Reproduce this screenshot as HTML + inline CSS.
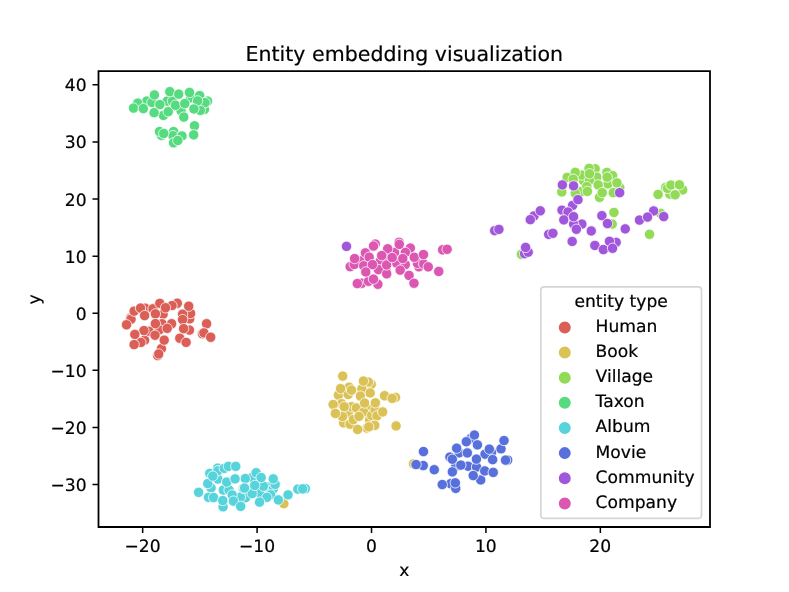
<!DOCTYPE html>
<html><head><meta charset="utf-8"><title>Entity embedding visualization</title>
<style>html,body{margin:0;padding:0;background:#fff;width:789px;height:592px;overflow:hidden}svg{display:block;text-rendering:geometricPrecision}text{stroke:#000;stroke-width:0.12px}</style>
</head><body>
<svg width="789" height="592" preserveAspectRatio="none" viewBox="0 0 460.8 345.6" version="1.1">
 
 <defs>
  <style type="text/css">*{stroke-linejoin: round; stroke-linecap: butt}</style>
 </defs>
 <g id="figure_1">
  <g id="patch_1">
   <path d="M 0 345.6 
L 460.8 345.6 
L 460.8 0 
L 0 0 
z
" style="fill: #ffffff"/>
  </g>
  <g id="axes_1">
   <g id="patch_2">
    <path d="M 57.6 307.584 
L 414.72 307.584 
L 414.72 41.472 
L 57.6 41.472 
z
" style="fill: #ffffff"/>
   </g>
   <g id="PathCollection_1">
    <defs>
     <path id="C0_0_e93a4b9b01" d="M 0 3 
C 0.795609 3 1.55874 2.683901 2.12132 2.12132 
C 2.683901 1.55874 3 0.795609 3 -0 
C 3 -0.795609 2.683901 -1.55874 2.12132 -2.12132 
C 1.55874 -2.683901 0.795609 -3 0 -3 
C -0.795609 -3 -1.55874 -2.683901 -2.12132 -2.12132 
C -2.683901 -1.55874 -3 -0.795609 -3 0 
C -3 0.795609 -2.683901 1.55874 -2.12132 2.12132 
C -1.55874 2.683901 -0.795609 3 0 3 
z
"/>
    </defs>
    <g clip-path="url(#pcbe1e40d2f)">
     <use href="#C0_0_e93a4b9b01" x="76.348602" y="185.559789" style="fill: #db5f57; stroke: #ffffff; stroke-width: 0.48"/>
    </g>
    <g clip-path="url(#pcbe1e40d2f)">
     <use href="#C0_0_e93a4b9b01" x="84.4621" y="198.576409" style="fill: #db5f57; stroke: #ffffff; stroke-width: 0.48"/>
    </g>
    <g clip-path="url(#pcbe1e40d2f)">
     <use href="#C0_0_e93a4b9b01" x="92.108634" y="207.565464" style="fill: #db5f57; stroke: #ffffff; stroke-width: 0.48"/>
    </g>
    <g clip-path="url(#pcbe1e40d2f)">
     <use href="#C0_0_e93a4b9b01" x="103.54925" y="177.037698" style="fill: #db5f57; stroke: #ffffff; stroke-width: 0.48"/>
    </g>
    <g clip-path="url(#pcbe1e40d2f)">
     <use href="#C0_0_e93a4b9b01" x="110.787191" y="186.085124" style="fill: #db5f57; stroke: #ffffff; stroke-width: 0.48"/>
    </g>
    <g clip-path="url(#pcbe1e40d2f)">
     <use href="#C0_0_e93a4b9b01" x="118.258614" y="194.840697" style="fill: #db5f57; stroke: #ffffff; stroke-width: 0.48"/>
    </g>
    <g clip-path="url(#pcbe1e40d2f)">
     <use href="#C0_0_e93a4b9b01" x="76.523713" y="186.376976" style="fill: #db5f57; stroke: #ffffff; stroke-width: 0.48"/>
    </g>
    <g clip-path="url(#pcbe1e40d2f)">
     <use href="#C0_0_e93a4b9b01" x="78.333198" y="181.648966" style="fill: #db5f57; stroke: #ffffff; stroke-width: 0.48"/>
    </g>
    <g clip-path="url(#pcbe1e40d2f)">
     <use href="#C0_0_e93a4b9b01" x="84.812323" y="179.956222" style="fill: #db5f57; stroke: #ffffff; stroke-width: 0.48"/>
    </g>
    <g clip-path="url(#pcbe1e40d2f)">
     <use href="#C0_0_e93a4b9b01" x="89.365221" y="180.248075" style="fill: #db5f57; stroke: #ffffff; stroke-width: 0.48"/>
    </g>
    <g clip-path="url(#pcbe1e40d2f)">
     <use href="#C0_0_e93a4b9b01" x="95.26064" y="183.400081" style="fill: #db5f57; stroke: #ffffff; stroke-width: 0.48"/>
    </g>
    <g clip-path="url(#pcbe1e40d2f)">
     <use href="#C0_0_e93a4b9b01" x="94.618565" y="189.003648" style="fill: #db5f57; stroke: #ffffff; stroke-width: 0.48"/>
    </g>
    <g clip-path="url(#pcbe1e40d2f)">
     <use href="#C0_0_e93a4b9b01" x="87.088772" y="193.381435" style="fill: #db5f57; stroke: #ffffff; stroke-width: 0.48"/>
    </g>
    <g clip-path="url(#pcbe1e40d2f)">
     <use href="#C0_0_e93a4b9b01" x="93.100932" y="192.505878" style="fill: #db5f57; stroke: #ffffff; stroke-width: 0.48"/>
    </g>
    <g clip-path="url(#pcbe1e40d2f)">
     <use href="#C0_0_e93a4b9b01" x="82.244021" y="199.91893" style="fill: #db5f57; stroke: #ffffff; stroke-width: 0.48"/>
    </g>
    <g clip-path="url(#pcbe1e40d2f)">
     <use href="#C0_0_e93a4b9b01" x="94.268342" y="203.5379" style="fill: #db5f57; stroke: #ffffff; stroke-width: 0.48"/>
    </g>
    <g clip-path="url(#pcbe1e40d2f)">
     <use href="#C0_0_e93a4b9b01" x="100.455614" y="178.380219" style="fill: #db5f57; stroke: #ffffff; stroke-width: 0.48"/>
    </g>
    <g clip-path="url(#pcbe1e40d2f)">
     <use href="#C0_0_e93a4b9b01" x="111.312525" y="182.991488" style="fill: #db5f57; stroke: #ffffff; stroke-width: 0.48"/>
    </g>
    <g clip-path="url(#pcbe1e40d2f)">
     <use href="#C0_0_e93a4b9b01" x="106.642886" y="183.458452" style="fill: #db5f57; stroke: #ffffff; stroke-width: 0.48"/>
    </g>
    <g clip-path="url(#pcbe1e40d2f)">
     <use href="#C0_0_e93a4b9b01" x="100.222132" y="189.003648" style="fill: #db5f57; stroke: #ffffff; stroke-width: 0.48"/>
    </g>
    <g clip-path="url(#pcbe1e40d2f)">
     <use href="#C0_0_e93a4b9b01" x="110.67045" y="192.680989" style="fill: #db5f57; stroke: #ffffff; stroke-width: 0.48"/>
    </g>
    <g clip-path="url(#pcbe1e40d2f)">
     <use href="#C0_0_e93a4b9b01" x="105.008512" y="197.467369" style="fill: #db5f57; stroke: #ffffff; stroke-width: 0.48"/>
    </g>
    <g clip-path="url(#pcbe1e40d2f)">
     <use href="#C0_0_e93a4b9b01" x="73.897041" y="189.587353" style="fill: #db5f57; stroke: #ffffff; stroke-width: 0.48"/>
    </g>
    <g clip-path="url(#pcbe1e40d2f)">
     <use href="#C0_0_e93a4b9b01" x="82.06891" y="179.839481" style="fill: #db5f57; stroke: #ffffff; stroke-width: 0.48"/>
    </g>
    <g clip-path="url(#pcbe1e40d2f)">
     <use href="#C0_0_e93a4b9b01" x="84.4621" y="184.217268" style="fill: #db5f57; stroke: #ffffff; stroke-width: 0.48"/>
    </g>
    <g clip-path="url(#pcbe1e40d2f)">
     <use href="#C0_0_e93a4b9b01" x="93.334414" y="177.096068" style="fill: #db5f57; stroke: #ffffff; stroke-width: 0.48"/>
    </g>
    <g clip-path="url(#pcbe1e40d2f)">
     <use href="#C0_0_e93a4b9b01" x="90.766113" y="183.22497" style="fill: #db5f57; stroke: #ffffff; stroke-width: 0.48"/>
    </g>
    <g clip-path="url(#pcbe1e40d2f)">
     <use href="#C0_0_e93a4b9b01" x="96.661532" y="179.66437" style="fill: #db5f57; stroke: #ffffff; stroke-width: 0.48"/>
    </g>
    <g clip-path="url(#pcbe1e40d2f)">
     <use href="#C0_0_e93a4b9b01" x="90.766113" y="188.945278" style="fill: #db5f57; stroke: #ffffff; stroke-width: 0.48"/>
    </g>
    <g clip-path="url(#pcbe1e40d2f)">
     <use href="#C0_0_e93a4b9b01" x="97.653831" y="191.688691" style="fill: #db5f57; stroke: #ffffff; stroke-width: 0.48"/>
    </g>
    <g clip-path="url(#pcbe1e40d2f)">
     <use href="#C0_0_e93a4b9b01" x="84.053506" y="192.972842" style="fill: #db5f57; stroke: #ffffff; stroke-width: 0.48"/>
    </g>
    <g clip-path="url(#pcbe1e40d2f)">
     <use href="#C0_0_e93a4b9b01" x="78.741792" y="195.249291" style="fill: #db5f57; stroke: #ffffff; stroke-width: 0.48"/>
    </g>
    <g clip-path="url(#pcbe1e40d2f)">
     <use href="#C0_0_e93a4b9b01" x="90.532631" y="195.716255" style="fill: #db5f57; stroke: #ffffff; stroke-width: 0.48"/>
    </g>
    <g clip-path="url(#pcbe1e40d2f)">
     <use href="#C0_0_e93a4b9b01" x="78.333198" y="201.14471" style="fill: #db5f57; stroke: #ffffff; stroke-width: 0.48"/>
    </g>
    <g clip-path="url(#pcbe1e40d2f)">
     <use href="#C0_0_e93a4b9b01" x="95.902716" y="198.576409" style="fill: #db5f57; stroke: #ffffff; stroke-width: 0.48"/>
    </g>
    <g clip-path="url(#pcbe1e40d2f)">
     <use href="#C0_0_e93a4b9b01" x="92.692339" y="206.631536" style="fill: #db5f57; stroke: #ffffff; stroke-width: 0.48"/>
    </g>
    <g clip-path="url(#pcbe1e40d2f)">
     <use href="#C0_0_e93a4b9b01" x="110.203486" y="178.788812" style="fill: #db5f57; stroke: #ffffff; stroke-width: 0.48"/>
    </g>
    <g clip-path="url(#pcbe1e40d2f)">
     <use href="#C0_0_e93a4b9b01" x="106.642886" y="186.552088" style="fill: #db5f57; stroke: #ffffff; stroke-width: 0.48"/>
    </g>
    <g clip-path="url(#pcbe1e40d2f)">
     <use href="#C0_0_e93a4b9b01" x="107.226591" y="191.863802" style="fill: #db5f57; stroke: #ffffff; stroke-width: 0.48"/>
    </g>
    <g clip-path="url(#pcbe1e40d2f)">
     <use href="#C0_0_e93a4b9b01" x="120.651804" y="189.003648" style="fill: #db5f57; stroke: #ffffff; stroke-width: 0.48"/>
    </g>
    <g clip-path="url(#pcbe1e40d2f)">
     <use href="#C0_0_e93a4b9b01" x="119.075801" y="194.315363" style="fill: #db5f57; stroke: #ffffff; stroke-width: 0.48"/>
    </g>
    <g clip-path="url(#pcbe1e40d2f)">
     <use href="#C0_0_e93a4b9b01" x="123.044994" y="196.883664" style="fill: #db5f57; stroke: #ffffff; stroke-width: 0.48"/>
    </g>
    <g clip-path="url(#pcbe1e40d2f)">
     <use href="#C0_0_e93a4b9b01" x="108.685853" y="199.860559" style="fill: #db5f57; stroke: #ffffff; stroke-width: 0.48"/>
    </g>
    <g clip-path="url(#pcbe1e40d2f)">
     <use href="#C0_0_e93a4b9b01" x="216.788002" y="224.376165" style="fill: #dbc257; stroke: #ffffff; stroke-width: 0.48"/>
    </g>
    <g clip-path="url(#pcbe1e40d2f)">
     <use href="#C0_0_e93a4b9b01" x="230.972031" y="232.0227" style="fill: #dbc257; stroke: #ffffff; stroke-width: 0.48"/>
    </g>
    <g clip-path="url(#pcbe1e40d2f)">
     <use href="#C0_0_e93a4b9b01" x="200.677746" y="246.848804" style="fill: #dbc257; stroke: #ffffff; stroke-width: 0.48"/>
    </g>
    <g clip-path="url(#pcbe1e40d2f)">
     <use href="#C0_0_e93a4b9b01" x="203.362789" y="241.011755" style="fill: #dbc257; stroke: #ffffff; stroke-width: 0.48"/>
    </g>
    <g clip-path="url(#pcbe1e40d2f)">
     <use href="#C0_0_e93a4b9b01" x="204.413458" y="247.665991" style="fill: #dbc257; stroke: #ffffff; stroke-width: 0.48"/>
    </g>
    <g clip-path="url(#pcbe1e40d2f)">
     <use href="#C0_0_e93a4b9b01" x="205.289015" y="237.451155" style="fill: #dbc257; stroke: #ffffff; stroke-width: 0.48"/>
    </g>
    <g clip-path="url(#pcbe1e40d2f)">
     <use href="#C0_0_e93a4b9b01" x="216.321038" y="239.027158" style="fill: #dbc257; stroke: #ffffff; stroke-width: 0.48"/>
    </g>
    <g clip-path="url(#pcbe1e40d2f)">
     <use href="#C0_0_e93a4b9b01" x="214.278071" y="249.88407" style="fill: #dbc257; stroke: #ffffff; stroke-width: 0.48"/>
    </g>
    <g clip-path="url(#pcbe1e40d2f)">
     <use href="#C0_0_e93a4b9b01" x="215.854074" y="245.21443" style="fill: #dbc257; stroke: #ffffff; stroke-width: 0.48"/>
    </g>
    <g clip-path="url(#pcbe1e40d2f)">
     <use href="#C0_0_e93a4b9b01" x="241.478719" y="270.780705" style="fill: #dbc257; stroke: #ffffff; stroke-width: 0.48"/>
    </g>
    <g clip-path="url(#pcbe1e40d2f)">
     <use href="#C0_0_e93a4b9b01" x="197.642481" y="230.621808" style="fill: #dbc257; stroke: #ffffff; stroke-width: 0.48"/>
    </g>
    <g clip-path="url(#pcbe1e40d2f)">
     <use href="#C0_0_e93a4b9b01" x="203.888123" y="226.06891" style="fill: #dbc257; stroke: #ffffff; stroke-width: 0.48"/>
    </g>
    <g clip-path="url(#pcbe1e40d2f)">
     <use href="#C0_0_e93a4b9b01" x="203.362789" y="230.271585" style="fill: #dbc257; stroke: #ffffff; stroke-width: 0.48"/>
    </g>
    <g clip-path="url(#pcbe1e40d2f)">
     <use href="#C0_0_e93a4b9b01" x="215.153628" y="223.033644" style="fill: #dbc257; stroke: #ffffff; stroke-width: 0.48"/>
    </g>
    <g clip-path="url(#pcbe1e40d2f)">
     <use href="#C0_0_e93a4b9b01" x="211.301176" y="227.061208" style="fill: #dbc257; stroke: #ffffff; stroke-width: 0.48"/>
    </g>
    <g clip-path="url(#pcbe1e40d2f)">
     <use href="#C0_0_e93a4b9b01" x="210.483989" y="231.205513" style="fill: #dbc257; stroke: #ffffff; stroke-width: 0.48"/>
    </g>
    <g clip-path="url(#pcbe1e40d2f)">
     <use href="#C0_0_e93a4b9b01" x="199.510336" y="235.700041" style="fill: #dbc257; stroke: #ffffff; stroke-width: 0.48"/>
    </g>
    <g clip-path="url(#pcbe1e40d2f)">
     <use href="#C0_0_e93a4b9b01" x="199.9773" y="243.113093" style="fill: #dbc257; stroke: #ffffff; stroke-width: 0.48"/>
    </g>
    <g clip-path="url(#pcbe1e40d2f)">
     <use href="#C0_0_e93a4b9b01" x="208.149169" y="238.151601" style="fill: #dbc257; stroke: #ffffff; stroke-width: 0.48"/>
    </g>
    <g clip-path="url(#pcbe1e40d2f)">
     <use href="#C0_0_e93a4b9b01" x="212.351844" y="240.544791" style="fill: #dbc257; stroke: #ffffff; stroke-width: 0.48"/>
    </g>
    <g clip-path="url(#pcbe1e40d2f)">
     <use href="#C0_0_e93a4b9b01" x="206.339684" y="244.922578" style="fill: #dbc257; stroke: #ffffff; stroke-width: 0.48"/>
    </g>
    <g clip-path="url(#pcbe1e40d2f)">
     <use href="#C0_0_e93a4b9b01" x="217.079854" y="242.529388" style="fill: #dbc257; stroke: #ffffff; stroke-width: 0.48"/>
    </g>
    <g clip-path="url(#pcbe1e40d2f)">
     <use href="#C0_0_e93a4b9b01" x="219.064451" y="239.085529" style="fill: #dbc257; stroke: #ffffff; stroke-width: 0.48"/>
    </g>
    <g clip-path="url(#pcbe1e40d2f)">
     <use href="#C0_0_e93a4b9b01" x="220.17349" y="242.76287" style="fill: #dbc257; stroke: #ffffff; stroke-width: 0.48"/>
    </g>
    <g clip-path="url(#pcbe1e40d2f)">
     <use href="#C0_0_e93a4b9b01" x="218.889339" y="248.308066" style="fill: #dbc257; stroke: #ffffff; stroke-width: 0.48"/>
    </g>
    <g clip-path="url(#pcbe1e40d2f)">
     <use href="#C0_0_e93a4b9b01" x="165.772193" y="294.070531" style="fill: #dbc257; stroke: #ffffff; stroke-width: 0.48"/>
    </g>
    <g clip-path="url(#pcbe1e40d2f)">
     <use href="#C0_0_e93a4b9b01" x="200.152412" y="219.589785" style="fill: #dbc257; stroke: #ffffff; stroke-width: 0.48"/>
    </g>
    <g clip-path="url(#pcbe1e40d2f)">
     <use href="#C0_0_e93a4b9b01" x="198.926632" y="226.886096" style="fill: #dbc257; stroke: #ffffff; stroke-width: 0.48"/>
    </g>
    <g clip-path="url(#pcbe1e40d2f)">
     <use href="#C0_0_e93a4b9b01" x="205.289015" y="227.761654" style="fill: #dbc257; stroke: #ffffff; stroke-width: 0.48"/>
    </g>
    <g clip-path="url(#pcbe1e40d2f)">
     <use href="#C0_0_e93a4b9b01" x="212.235103" y="222.449939" style="fill: #dbc257; stroke: #ffffff; stroke-width: 0.48"/>
    </g>
    <g clip-path="url(#pcbe1e40d2f)">
     <use href="#C0_0_e93a4b9b01" x="216.204297" y="229.396028" style="fill: #dbc257; stroke: #ffffff; stroke-width: 0.48"/>
    </g>
    <g clip-path="url(#pcbe1e40d2f)">
     <use href="#C0_0_e93a4b9b01" x="212.935549" y="235.291447" style="fill: #dbc257; stroke: #ffffff; stroke-width: 0.48"/>
    </g>
    <g clip-path="url(#pcbe1e40d2f)">
     <use href="#C0_0_e93a4b9b01" x="194.548845" y="236.167004" style="fill: #dbc257; stroke: #ffffff; stroke-width: 0.48"/>
    </g>
    <g clip-path="url(#pcbe1e40d2f)">
     <use href="#C0_0_e93a4b9b01" x="219.239562" y="235.174706" style="fill: #dbc257; stroke: #ffffff; stroke-width: 0.48"/>
    </g>
    <g clip-path="url(#pcbe1e40d2f)">
     <use href="#C0_0_e93a4b9b01" x="224.609647" y="231.030401" style="fill: #dbc257; stroke: #ffffff; stroke-width: 0.48"/>
    </g>
    <g clip-path="url(#pcbe1e40d2f)">
     <use href="#C0_0_e93a4b9b01" x="229.045805" y="232.548034" style="fill: #dbc257; stroke: #ffffff; stroke-width: 0.48"/>
    </g>
    <g clip-path="url(#pcbe1e40d2f)">
     <use href="#C0_0_e93a4b9b01" x="201.027969" y="237.451155" style="fill: #dbc257; stroke: #ffffff; stroke-width: 0.48"/>
    </g>
    <g clip-path="url(#pcbe1e40d2f)">
     <use href="#C0_0_e93a4b9b01" x="195.891366" y="241.361978" style="fill: #dbc257; stroke: #ffffff; stroke-width: 0.48"/>
    </g>
    <g clip-path="url(#pcbe1e40d2f)">
     <use href="#C0_0_e93a4b9b01" x="209.666802" y="243.113093" style="fill: #dbc257; stroke: #ffffff; stroke-width: 0.48"/>
    </g>
    <g clip-path="url(#pcbe1e40d2f)">
     <use href="#C0_0_e93a4b9b01" x="208.849615" y="250.701257" style="fill: #dbc257; stroke: #ffffff; stroke-width: 0.48"/>
    </g>
    <g clip-path="url(#pcbe1e40d2f)">
     <use href="#C0_0_e93a4b9b01" x="215.38711" y="249.183624" style="fill: #dbc257; stroke: #ffffff; stroke-width: 0.48"/>
    </g>
    <g clip-path="url(#pcbe1e40d2f)">
     <use href="#C0_0_e93a4b9b01" x="223.500608" y="240.486421" style="fill: #dbc257; stroke: #ffffff; stroke-width: 0.48"/>
    </g>
    <g clip-path="url(#pcbe1e40d2f)">
     <use href="#C0_0_e93a4b9b01" x="231.322254" y="248.658289" style="fill: #dbc257; stroke: #ffffff; stroke-width: 0.48"/>
    </g>
    <g clip-path="url(#pcbe1e40d2f)">
     <use href="#C0_0_e93a4b9b01" x="347.596271" y="98.529388" style="fill: #91db57; stroke: #ffffff; stroke-width: 0.48"/>
    </g>
    <g clip-path="url(#pcbe1e40d2f)">
     <use href="#C0_0_e93a4b9b01" x="340.708553" y="105.358735" style="fill: #91db57; stroke: #ffffff; stroke-width: 0.48"/>
    </g>
    <g clip-path="url(#pcbe1e40d2f)">
     <use href="#C0_0_e93a4b9b01" x="339.716255" y="111.721119" style="fill: #91db57; stroke: #ffffff; stroke-width: 0.48"/>
    </g>
    <g clip-path="url(#pcbe1e40d2f)">
     <use href="#C0_0_e93a4b9b01" x="361.955411" y="109.50304" style="fill: #91db57; stroke: #ffffff; stroke-width: 0.48"/>
    </g>
    <g clip-path="url(#pcbe1e40d2f)">
     <use href="#C0_0_e93a4b9b01" x="388.805837" y="109.44467" style="fill: #91db57; stroke: #ffffff; stroke-width: 0.48"/>
    </g>
    <g clip-path="url(#pcbe1e40d2f)">
     <use href="#C0_0_e93a4b9b01" x="391.257398" y="113.355493" style="fill: #91db57; stroke: #ffffff; stroke-width: 0.48"/>
    </g>
    <g clip-path="url(#pcbe1e40d2f)">
     <use href="#C0_0_e93a4b9b01" x="344.035671" y="98.295906" style="fill: #91db57; stroke: #ffffff; stroke-width: 0.48"/>
    </g>
    <g clip-path="url(#pcbe1e40d2f)">
     <use href="#C0_0_e93a4b9b01" x="339.716255" y="102.206729" style="fill: #91db57; stroke: #ffffff; stroke-width: 0.48"/>
    </g>
    <g clip-path="url(#pcbe1e40d2f)">
     <use href="#C0_0_e93a4b9b01" x="331.252533" y="103.607621" style="fill: #91db57; stroke: #ffffff; stroke-width: 0.48"/>
    </g>
    <g clip-path="url(#pcbe1e40d2f)">
     <use href="#C0_0_e93a4b9b01" x="348.588569" y="103.432509" style="fill: #91db57; stroke: #ffffff; stroke-width: 0.48"/>
    </g>
    <g clip-path="url(#pcbe1e40d2f)">
     <use href="#C0_0_e93a4b9b01" x="344.269153" y="105.358735" style="fill: #91db57; stroke: #ffffff; stroke-width: 0.48"/>
    </g>
    <g clip-path="url(#pcbe1e40d2f)">
     <use href="#C0_0_e93a4b9b01" x="342.69315" y="108.919335" style="fill: #91db57; stroke: #ffffff; stroke-width: 0.48"/>
    </g>
    <g clip-path="url(#pcbe1e40d2f)">
     <use href="#C0_0_e93a4b9b01" x="328.100527" y="112.071342" style="fill: #91db57; stroke: #ffffff; stroke-width: 0.48"/>
    </g>
    <g clip-path="url(#pcbe1e40d2f)">
     <use href="#C0_0_e93a4b9b01" x="335.980543" y="112.888529" style="fill: #91db57; stroke: #ffffff; stroke-width: 0.48"/>
    </g>
    <g clip-path="url(#pcbe1e40d2f)">
     <use href="#C0_0_e93a4b9b01" x="350.164572" y="115.223348" style="fill: #91db57; stroke: #ffffff; stroke-width: 0.48"/>
    </g>
    <g clip-path="url(#pcbe1e40d2f)">
     <use href="#C0_0_e93a4b9b01" x="354.425618" y="100.689096" style="fill: #91db57; stroke: #ffffff; stroke-width: 0.48"/>
    </g>
    <g clip-path="url(#pcbe1e40d2f)">
     <use href="#C0_0_e93a4b9b01" x="357.811107" y="102.556952" style="fill: #91db57; stroke: #ffffff; stroke-width: 0.48"/>
    </g>
    <g clip-path="url(#pcbe1e40d2f)">
     <use href="#C0_0_e93a4b9b01" x="355.009323" y="107.343332" style="fill: #91db57; stroke: #ffffff; stroke-width: 0.48"/>
    </g>
    <g clip-path="url(#pcbe1e40d2f)">
     <use href="#C0_0_e93a4b9b01" x="358.16133" y="112.479935" style="fill: #91db57; stroke: #ffffff; stroke-width: 0.48"/>
    </g>
    <g clip-path="url(#pcbe1e40d2f)">
     <use href="#C0_0_e93a4b9b01" x="389.856506" y="109.970004" style="fill: #91db57; stroke: #ffffff; stroke-width: 0.48"/>
    </g>
    <g clip-path="url(#pcbe1e40d2f)">
     <use href="#C0_0_e93a4b9b01" x="398.72882" y="110.845561" style="fill: #91db57; stroke: #ffffff; stroke-width: 0.48"/>
    </g>
    <g clip-path="url(#pcbe1e40d2f)">
     <use href="#C0_0_e93a4b9b01" x="304.518849" y="148.436157" style="fill: #91db57; stroke: #ffffff; stroke-width: 0.48"/>
    </g>
    <g clip-path="url(#pcbe1e40d2f)">
     <use href="#C0_0_e93a4b9b01" x="357.577625" y="130.808269" style="fill: #91db57; stroke: #ffffff; stroke-width: 0.48"/>
    </g>
    <g clip-path="url(#pcbe1e40d2f)">
     <use href="#C0_0_e93a4b9b01" x="385.887313" y="124.620997" style="fill: #91db57; stroke: #ffffff; stroke-width: 0.48"/>
    </g>
    <g clip-path="url(#pcbe1e40d2f)">
     <use href="#C0_0_e93a4b9b01" x="335.980543" y="100.630726" style="fill: #91db57; stroke: #ffffff; stroke-width: 0.48"/>
    </g>
    <g clip-path="url(#pcbe1e40d2f)">
     <use href="#C0_0_e93a4b9b01" x="344.269153" y="101.447912" style="fill: #91db57; stroke: #ffffff; stroke-width: 0.48"/>
    </g>
    <g clip-path="url(#pcbe1e40d2f)">
     <use href="#C0_0_e93a4b9b01" x="334.754763" y="104.599919" style="fill: #91db57; stroke: #ffffff; stroke-width: 0.48"/>
    </g>
    <g clip-path="url(#pcbe1e40d2f)">
     <use href="#C0_0_e93a4b9b01" x="349.347385" y="107.927037" style="fill: #91db57; stroke: #ffffff; stroke-width: 0.48"/>
    </g>
    <g clip-path="url(#pcbe1e40d2f)">
     <use href="#C0_0_e93a4b9b01" x="343.043373" y="111.721119" style="fill: #91db57; stroke: #ffffff; stroke-width: 0.48"/>
    </g>
    <g clip-path="url(#pcbe1e40d2f)">
     <use href="#C0_0_e93a4b9b01" x="351.740576" y="112.479935" style="fill: #91db57; stroke: #ffffff; stroke-width: 0.48"/>
    </g>
    <g clip-path="url(#pcbe1e40d2f)">
     <use href="#C0_0_e93a4b9b01" x="354.60073" y="103.432509" style="fill: #91db57; stroke: #ffffff; stroke-width: 0.48"/>
    </g>
    <g clip-path="url(#pcbe1e40d2f)">
     <use href="#C0_0_e93a4b9b01" x="360.321038" y="106.759627" style="fill: #91db57; stroke: #ffffff; stroke-width: 0.48"/>
    </g>
    <g clip-path="url(#pcbe1e40d2f)">
     <use href="#C0_0_e93a4b9b01" x="384.36968" y="113.530604" style="fill: #91db57; stroke: #ffffff; stroke-width: 0.48"/>
    </g>
    <g clip-path="url(#pcbe1e40d2f)">
     <use href="#C0_0_e93a4b9b01" x="391.841103" y="108.043778" style="fill: #91db57; stroke: #ffffff; stroke-width: 0.48"/>
    </g>
    <g clip-path="url(#pcbe1e40d2f)">
     <use href="#C0_0_e93a4b9b01" x="396.802594" y="107.868666" style="fill: #91db57; stroke: #ffffff; stroke-width: 0.48"/>
    </g>
    <g clip-path="url(#pcbe1e40d2f)">
     <use href="#C0_0_e93a4b9b01" x="394.292663" y="113.705715" style="fill: #91db57; stroke: #ffffff; stroke-width: 0.48"/>
    </g>
    <g clip-path="url(#pcbe1e40d2f)">
     <use href="#C0_0_e93a4b9b01" x="358.569923" y="124.037292" style="fill: #91db57; stroke: #ffffff; stroke-width: 0.48"/>
    </g>
    <g clip-path="url(#pcbe1e40d2f)">
     <use href="#C0_0_e93a4b9b01" x="379.349818" y="136.762059" style="fill: #91db57; stroke: #ffffff; stroke-width: 0.48"/>
    </g>
    <g clip-path="url(#pcbe1e40d2f)">
     <use href="#C0_0_e93a4b9b01" x="85.68788" y="59.012566" style="fill: #57db80; stroke: #ffffff; stroke-width: 0.48"/>
    </g>
    <g clip-path="url(#pcbe1e40d2f)">
     <use href="#C0_0_e93a4b9b01" x="119.367653" y="63.857317" style="fill: #57db80; stroke: #ffffff; stroke-width: 0.48"/>
    </g>
    <g clip-path="url(#pcbe1e40d2f)">
     <use href="#C0_0_e93a4b9b01" x="111.254155" y="57.14471" style="fill: #57db80; stroke: #ffffff; stroke-width: 0.48"/>
    </g>
    <g clip-path="url(#pcbe1e40d2f)">
     <use href="#C0_0_e93a4b9b01" x="94.268342" y="79.033644" style="fill: #57db80; stroke: #ffffff; stroke-width: 0.48"/>
    </g>
    <g clip-path="url(#pcbe1e40d2f)">
     <use href="#C0_0_e93a4b9b01" x="101.389542" y="76.815565" style="fill: #57db80; stroke: #ffffff; stroke-width: 0.48"/>
    </g>
    <g clip-path="url(#pcbe1e40d2f)">
     <use href="#C0_0_e93a4b9b01" x="80.434536" y="60.238346" style="fill: #57db80; stroke: #ffffff; stroke-width: 0.48"/>
    </g>
    <g clip-path="url(#pcbe1e40d2f)">
     <use href="#C0_0_e93a4b9b01" x="88.723146" y="59.829753" style="fill: #57db80; stroke: #ffffff; stroke-width: 0.48"/>
    </g>
    <g clip-path="url(#pcbe1e40d2f)">
     <use href="#C0_0_e93a4b9b01" x="95.435752" y="67.359546" style="fill: #57db80; stroke: #ffffff; stroke-width: 0.48"/>
    </g>
    <g clip-path="url(#pcbe1e40d2f)">
     <use href="#C0_0_e93a4b9b01" x="97.59546" y="59.070936" style="fill: #57db80; stroke: #ffffff; stroke-width: 0.48"/>
    </g>
    <g clip-path="url(#pcbe1e40d2f)">
     <use href="#C0_0_e93a4b9b01" x="100.747467" y="59.070936" style="fill: #57db80; stroke: #ffffff; stroke-width: 0.48"/>
    </g>
    <g clip-path="url(#pcbe1e40d2f)">
     <use href="#C0_0_e93a4b9b01" x="116.62424" y="55.802189" style="fill: #57db80; stroke: #ffffff; stroke-width: 0.48"/>
    </g>
    <g clip-path="url(#pcbe1e40d2f)">
     <use href="#C0_0_e93a4b9b01" x="121.235509" y="59.012566" style="fill: #57db80; stroke: #ffffff; stroke-width: 0.48"/>
    </g>
    <g clip-path="url(#pcbe1e40d2f)">
     <use href="#C0_0_e93a4b9b01" x="119.776246" y="59.888123" style="fill: #57db80; stroke: #ffffff; stroke-width: 0.48"/>
    </g>
    <g clip-path="url(#pcbe1e40d2f)">
     <use href="#C0_0_e93a4b9b01" x="116.974463" y="64.441021" style="fill: #57db80; stroke: #ffffff; stroke-width: 0.48"/>
    </g>
    <g clip-path="url(#pcbe1e40d2f)">
     <use href="#C0_0_e93a4b9b01" x="105.767329" y="64.616133" style="fill: #57db80; stroke: #ffffff; stroke-width: 0.48"/>
    </g>
    <g clip-path="url(#pcbe1e40d2f)">
     <use href="#C0_0_e93a4b9b01" x="93.159303" y="76.815565" style="fill: #57db80; stroke: #ffffff; stroke-width: 0.48"/>
    </g>
    <g clip-path="url(#pcbe1e40d2f)">
     <use href="#C0_0_e93a4b9b01" x="101.039319" y="79.208756" style="fill: #57db80; stroke: #ffffff; stroke-width: 0.48"/>
    </g>
    <g clip-path="url(#pcbe1e40d2f)">
     <use href="#C0_0_e93a4b9b01" x="106.292663" y="79.383867" style="fill: #57db80; stroke: #ffffff; stroke-width: 0.48"/>
    </g>
    <g clip-path="url(#pcbe1e40d2f)">
     <use href="#C0_0_e93a4b9b01" x="101.389542" y="83.35306" style="fill: #57db80; stroke: #ffffff; stroke-width: 0.48"/>
    </g>
    <g clip-path="url(#pcbe1e40d2f)">
     <use href="#C0_0_e93a4b9b01" x="77.982975" y="63.0985" style="fill: #57db80; stroke: #ffffff; stroke-width: 0.48"/>
    </g>
    <g clip-path="url(#pcbe1e40d2f)">
     <use href="#C0_0_e93a4b9b01" x="83.703283" y="63.390353" style="fill: #57db80; stroke: #ffffff; stroke-width: 0.48"/>
    </g>
    <g clip-path="url(#pcbe1e40d2f)">
     <use href="#C0_0_e93a4b9b01" x="90.182408" y="55.451966" style="fill: #57db80; stroke: #ffffff; stroke-width: 0.48"/>
    </g>
    <g clip-path="url(#pcbe1e40d2f)">
     <use href="#C0_0_e93a4b9b01" x="93.334414" y="61.055533" style="fill: #57db80; stroke: #ffffff; stroke-width: 0.48"/>
    </g>
    <g clip-path="url(#pcbe1e40d2f)">
     <use href="#C0_0_e93a4b9b01" x="90.007296" y="65.783543" style="fill: #57db80; stroke: #ffffff; stroke-width: 0.48"/>
    </g>
    <g clip-path="url(#pcbe1e40d2f)">
     <use href="#C0_0_e93a4b9b01" x="98.237535" y="65.199838" style="fill: #57db80; stroke: #ffffff; stroke-width: 0.48"/>
    </g>
    <g clip-path="url(#pcbe1e40d2f)">
     <use href="#C0_0_e93a4b9b01" x="99.171463" y="53.52574" style="fill: #57db80; stroke: #ffffff; stroke-width: 0.48"/>
    </g>
    <g clip-path="url(#pcbe1e40d2f)">
     <use href="#C0_0_e93a4b9b01" x="104.366437" y="54.985002" style="fill: #57db80; stroke: #ffffff; stroke-width: 0.48"/>
    </g>
    <g clip-path="url(#pcbe1e40d2f)">
     <use href="#C0_0_e93a4b9b01" x="110.67045" y="53.992704" style="fill: #57db80; stroke: #ffffff; stroke-width: 0.48"/>
    </g>
    <g clip-path="url(#pcbe1e40d2f)">
     <use href="#C0_0_e93a4b9b01" x="102.498581" y="61.464126" style="fill: #57db80; stroke: #ffffff; stroke-width: 0.48"/>
    </g>
    <g clip-path="url(#pcbe1e40d2f)">
     <use href="#C0_0_e93a4b9b01" x="107.927037" y="60.471828" style="fill: #57db80; stroke: #ffffff; stroke-width: 0.48"/>
    </g>
    <g clip-path="url(#pcbe1e40d2f)">
     <use href="#C0_0_e93a4b9b01" x="115.39846" y="58.895825" style="fill: #57db80; stroke: #ffffff; stroke-width: 0.48"/>
    </g>
    <g clip-path="url(#pcbe1e40d2f)">
     <use href="#C0_0_e93a4b9b01" x="113.238752" y="63.623835" style="fill: #57db80; stroke: #ffffff; stroke-width: 0.48"/>
    </g>
    <g clip-path="url(#pcbe1e40d2f)">
     <use href="#C0_0_e93a4b9b01" x="107.343332" y="68.351844" style="fill: #57db80; stroke: #ffffff; stroke-width: 0.48"/>
    </g>
    <g clip-path="url(#pcbe1e40d2f)">
     <use href="#C0_0_e93a4b9b01" x="113.588974" y="73.430077" style="fill: #57db80; stroke: #ffffff; stroke-width: 0.48"/>
    </g>
    <g clip-path="url(#pcbe1e40d2f)">
     <use href="#C0_0_e93a4b9b01" x="113.122011" y="78.683421" style="fill: #57db80; stroke: #ffffff; stroke-width: 0.48"/>
    </g>
    <g clip-path="url(#pcbe1e40d2f)">
     <use href="#C0_0_e93a4b9b01" x="95.610863" y="77.924605" style="fill: #57db80; stroke: #ffffff; stroke-width: 0.48"/>
    </g>
    <g clip-path="url(#pcbe1e40d2f)">
     <use href="#C0_0_e93a4b9b01" x="103.841103" y="82.010539" style="fill: #57db80; stroke: #ffffff; stroke-width: 0.48"/>
    </g>
    <g clip-path="url(#pcbe1e40d2f)">
     <use href="#C0_0_e93a4b9b01" x="127.072558" y="273.349007" style="fill: #57d3db; stroke: #ffffff; stroke-width: 0.48"/>
    </g>
    <g clip-path="url(#pcbe1e40d2f)">
     <use href="#C0_0_e93a4b9b01" x="147.210377" y="278.777463" style="fill: #57d3db; stroke: #ffffff; stroke-width: 0.48"/>
    </g>
    <g clip-path="url(#pcbe1e40d2f)">
     <use href="#C0_0_e93a4b9b01" x="156.257803" y="284.4394" style="fill: #57d3db; stroke: #ffffff; stroke-width: 0.48"/>
    </g>
    <g clip-path="url(#pcbe1e40d2f)">
     <use href="#C0_0_e93a4b9b01" x="159.701662" y="285.373328" style="fill: #57d3db; stroke: #ffffff; stroke-width: 0.48"/>
    </g>
    <g clip-path="url(#pcbe1e40d2f)">
     <use href="#C0_0_e93a4b9b01" x="160.69396" y="282.805026" style="fill: #57d3db; stroke: #ffffff; stroke-width: 0.48"/>
    </g>
    <g clip-path="url(#pcbe1e40d2f)">
     <use href="#C0_0_e93a4b9b01" x="151.821646" y="287.883259" style="fill: #57d3db; stroke: #ffffff; stroke-width: 0.48"/>
    </g>
    <g clip-path="url(#pcbe1e40d2f)">
     <use href="#C0_0_e93a4b9b01" x="158.067288" y="288.875557" style="fill: #57d3db; stroke: #ffffff; stroke-width: 0.48"/>
    </g>
    <g clip-path="url(#pcbe1e40d2f)">
     <use href="#C0_0_e93a4b9b01" x="143.474666" y="290.509931" style="fill: #57d3db; stroke: #ffffff; stroke-width: 0.48"/>
    </g>
    <g clip-path="url(#pcbe1e40d2f)">
     <use href="#C0_0_e93a4b9b01" x="178.321848" y="285.198216" style="fill: #57d3db; stroke: #ffffff; stroke-width: 0.48"/>
    </g>
    <g clip-path="url(#pcbe1e40d2f)">
     <use href="#C0_0_e93a4b9b01" x="123.278476" y="284.847994" style="fill: #57d3db; stroke: #ffffff; stroke-width: 0.48"/>
    </g>
    <g clip-path="url(#pcbe1e40d2f)">
     <use href="#C0_0_e93a4b9b01" x="122.51966" y="276.384272" style="fill: #57d3db; stroke: #ffffff; stroke-width: 0.48"/>
    </g>
    <g clip-path="url(#pcbe1e40d2f)">
     <use href="#C0_0_e93a4b9b01" x="127.247669" y="279.65302" style="fill: #57d3db; stroke: #ffffff; stroke-width: 0.48"/>
    </g>
    <g clip-path="url(#pcbe1e40d2f)">
     <use href="#C0_0_e93a4b9b01" x="127.247669" y="274.808269" style="fill: #57d3db; stroke: #ffffff; stroke-width: 0.48"/>
    </g>
    <g clip-path="url(#pcbe1e40d2f)">
     <use href="#C0_0_e93a4b9b01" x="130.983381" y="273.407377" style="fill: #57d3db; stroke: #ffffff; stroke-width: 0.48"/>
    </g>
    <g clip-path="url(#pcbe1e40d2f)">
     <use href="#C0_0_e93a4b9b01" x="133.376571" y="272.239968" style="fill: #57d3db; stroke: #ffffff; stroke-width: 0.48"/>
    </g>
    <g clip-path="url(#pcbe1e40d2f)">
     <use href="#C0_0_e93a4b9b01" x="130.399676" y="286.073774" style="fill: #57d3db; stroke: #ffffff; stroke-width: 0.48"/>
    </g>
    <g clip-path="url(#pcbe1e40d2f)">
     <use href="#C0_0_e93a4b9b01" x="133.785164" y="286.132144" style="fill: #57d3db; stroke: #ffffff; stroke-width: 0.48"/>
    </g>
    <g clip-path="url(#pcbe1e40d2f)">
     <use href="#C0_0_e93a4b9b01" x="121.760843" y="290.33482" style="fill: #57d3db; stroke: #ffffff; stroke-width: 0.48"/>
    </g>
    <g clip-path="url(#pcbe1e40d2f)">
     <use href="#C0_0_e93a4b9b01" x="130.282935" y="295.880016" style="fill: #57d3db; stroke: #ffffff; stroke-width: 0.48"/>
    </g>
    <g clip-path="url(#pcbe1e40d2f)">
     <use href="#C0_0_e93a4b9b01" x="140.4394" y="290.159708" style="fill: #57d3db; stroke: #ffffff; stroke-width: 0.48"/>
    </g>
    <g clip-path="url(#pcbe1e40d2f)">
     <use href="#C0_0_e93a4b9b01" x="143.241184" y="279.361167" style="fill: #57d3db; stroke: #ffffff; stroke-width: 0.48"/>
    </g>
    <g clip-path="url(#pcbe1e40d2f)">
     <use href="#C0_0_e93a4b9b01" x="149.603567" y="275.975679" style="fill: #57d3db; stroke: #ffffff; stroke-width: 0.48"/>
    </g>
    <g clip-path="url(#pcbe1e40d2f)">
     <use href="#C0_0_e93a4b9b01" x="153.806242" y="283.855695" style="fill: #57d3db; stroke: #ffffff; stroke-width: 0.48"/>
    </g>
    <g clip-path="url(#pcbe1e40d2f)">
     <use href="#C0_0_e93a4b9b01" x="147.268747" y="288.116741" style="fill: #57d3db; stroke: #ffffff; stroke-width: 0.48"/>
    </g>
    <g clip-path="url(#pcbe1e40d2f)">
     <use href="#C0_0_e93a4b9b01" x="155.84921" y="290.33482" style="fill: #57d3db; stroke: #ffffff; stroke-width: 0.48"/>
    </g>
    <g clip-path="url(#pcbe1e40d2f)">
     <use href="#C0_0_e93a4b9b01" x="173.944062" y="285.548439" style="fill: #57d3db; stroke: #ffffff; stroke-width: 0.48"/>
    </g>
    <g clip-path="url(#pcbe1e40d2f)">
     <use href="#C0_0_e93a4b9b01" x="115.982165" y="287.416295" style="fill: #57d3db; stroke: #ffffff; stroke-width: 0.48"/>
    </g>
    <g clip-path="url(#pcbe1e40d2f)">
     <use href="#C0_0_e93a4b9b01" x="121.35225" y="282.279692" style="fill: #57d3db; stroke: #ffffff; stroke-width: 0.48"/>
    </g>
    <g clip-path="url(#pcbe1e40d2f)">
     <use href="#C0_0_e93a4b9b01" x="124.270774" y="277.960276" style="fill: #57d3db; stroke: #ffffff; stroke-width: 0.48"/>
    </g>
    <g clip-path="url(#pcbe1e40d2f)">
     <use href="#C0_0_e93a4b9b01" x="137.695987" y="272.239968" style="fill: #57d3db; stroke: #ffffff; stroke-width: 0.48"/>
    </g>
    <g clip-path="url(#pcbe1e40d2f)">
     <use href="#C0_0_e93a4b9b01" x="132.384272" y="281.404135" style="fill: #57d3db; stroke: #ffffff; stroke-width: 0.48"/>
    </g>
    <g clip-path="url(#pcbe1e40d2f)">
     <use href="#C0_0_e93a4b9b01" x="137.287394" y="279.536279" style="fill: #57d3db; stroke: #ffffff; stroke-width: 0.48"/>
    </g>
    <g clip-path="url(#pcbe1e40d2f)">
     <use href="#C0_0_e93a4b9b01" x="135.594649" y="288.933928" style="fill: #57d3db; stroke: #ffffff; stroke-width: 0.48"/>
    </g>
    <g clip-path="url(#pcbe1e40d2f)">
     <use href="#C0_0_e93a4b9b01" x="124.737738" y="290.451561" style="fill: #57d3db; stroke: #ffffff; stroke-width: 0.48"/>
    </g>
    <g clip-path="url(#pcbe1e40d2f)">
     <use href="#C0_0_e93a4b9b01" x="130.107823" y="292.202675" style="fill: #57d3db; stroke: #ffffff; stroke-width: 0.48"/>
    </g>
    <g clip-path="url(#pcbe1e40d2f)">
     <use href="#C0_0_e93a4b9b01" x="136.353466" y="292.552898" style="fill: #57d3db; stroke: #ffffff; stroke-width: 0.48"/>
    </g>
    <g clip-path="url(#pcbe1e40d2f)">
     <use href="#C0_0_e93a4b9b01" x="140.556141" y="295.588164" style="fill: #57d3db; stroke: #ffffff; stroke-width: 0.48"/>
    </g>
    <g clip-path="url(#pcbe1e40d2f)">
     <use href="#C0_0_e93a4b9b01" x="142.132144" y="285.139846" style="fill: #57d3db; stroke: #ffffff; stroke-width: 0.48"/>
    </g>
    <g clip-path="url(#pcbe1e40d2f)">
     <use href="#C0_0_e93a4b9b01" x="152.522092" y="278.777463" style="fill: #57d3db; stroke: #ffffff; stroke-width: 0.48"/>
    </g>
    <g clip-path="url(#pcbe1e40d2f)">
     <use href="#C0_0_e93a4b9b01" x="159.584921" y="279.536279" style="fill: #57d3db; stroke: #ffffff; stroke-width: 0.48"/>
    </g>
    <g clip-path="url(#pcbe1e40d2f)">
     <use href="#C0_0_e93a4b9b01" x="142.83259" y="284.906364" style="fill: #57d3db; stroke: #ffffff; stroke-width: 0.48"/>
    </g>
    <g clip-path="url(#pcbe1e40d2f)">
     <use href="#C0_0_e93a4b9b01" x="148.78638" y="283.388731" style="fill: #57d3db; stroke: #ffffff; stroke-width: 0.48"/>
    </g>
    <g clip-path="url(#pcbe1e40d2f)">
     <use href="#C0_0_e93a4b9b01" x="151.588164" y="293.136603" style="fill: #57d3db; stroke: #ffffff; stroke-width: 0.48"/>
    </g>
    <g clip-path="url(#pcbe1e40d2f)">
     <use href="#C0_0_e93a4b9b01" x="162.561816" y="291.852452" style="fill: #57d3db; stroke: #ffffff; stroke-width: 0.48"/>
    </g>
    <g clip-path="url(#pcbe1e40d2f)">
     <use href="#C0_0_e93a4b9b01" x="168.223754" y="288.875557" style="fill: #57d3db; stroke: #ffffff; stroke-width: 0.48"/>
    </g>
    <g clip-path="url(#pcbe1e40d2f)">
     <use href="#C0_0_e93a4b9b01" x="176.745845" y="285.373328" style="fill: #57d3db; stroke: #ffffff; stroke-width: 0.48"/>
    </g>
    <g clip-path="url(#pcbe1e40d2f)">
     <use href="#C0_0_e93a4b9b01" x="263.192542" y="282.396433" style="fill: #5770db; stroke: #ffffff; stroke-width: 0.48"/>
    </g>
    <g clip-path="url(#pcbe1e40d2f)">
     <use href="#C0_0_e93a4b9b01" x="262.725578" y="266.811512" style="fill: #5770db; stroke: #ffffff; stroke-width: 0.48"/>
    </g>
    <g clip-path="url(#pcbe1e40d2f)">
     <use href="#C0_0_e93a4b9b01" x="266.169437" y="272.239968" style="fill: #5770db; stroke: #ffffff; stroke-width: 0.48"/>
    </g>
    <g clip-path="url(#pcbe1e40d2f)">
     <use href="#C0_0_e93a4b9b01" x="275.100122" y="255.89623" style="fill: #5770db; stroke: #ffffff; stroke-width: 0.48"/>
    </g>
    <g clip-path="url(#pcbe1e40d2f)">
     <use href="#C0_0_e93a4b9b01" x="296.522092" y="268.562627" style="fill: #5770db; stroke: #ffffff; stroke-width: 0.48"/>
    </g>
    <g clip-path="url(#pcbe1e40d2f)">
     <use href="#C0_0_e93a4b9b01" x="287.066072" y="264.009728" style="fill: #5770db; stroke: #ffffff; stroke-width: 0.48"/>
    </g>
    <g clip-path="url(#pcbe1e40d2f)">
     <use href="#C0_0_e93a4b9b01" x="247.199027" y="271.773004" style="fill: #5770db; stroke: #ffffff; stroke-width: 0.48"/>
    </g>
    <g clip-path="url(#pcbe1e40d2f)">
     <use href="#C0_0_e93a4b9b01" x="266.169437" y="285.081475" style="fill: #5770db; stroke: #ffffff; stroke-width: 0.48"/>
    </g>
    <g clip-path="url(#pcbe1e40d2f)">
     <use href="#C0_0_e93a4b9b01" x="268.154033" y="264.359951" style="fill: #5770db; stroke: #ffffff; stroke-width: 0.48"/>
    </g>
    <g clip-path="url(#pcbe1e40d2f)">
     <use href="#C0_0_e93a4b9b01" x="283.27199" y="265.177138" style="fill: #5770db; stroke: #ffffff; stroke-width: 0.48"/>
    </g>
    <g clip-path="url(#pcbe1e40d2f)">
     <use href="#C0_0_e93a4b9b01" x="273.349007" y="272.181597" style="fill: #5770db; stroke: #ffffff; stroke-width: 0.48"/>
    </g>
    <g clip-path="url(#pcbe1e40d2f)">
     <use href="#C0_0_e93a4b9b01" x="278.310499" y="272.648561" style="fill: #5770db; stroke: #ffffff; stroke-width: 0.48"/>
    </g>
    <g clip-path="url(#pcbe1e40d2f)">
     <use href="#C0_0_e93a4b9b01" x="280.762059" y="280.178354" style="fill: #5770db; stroke: #ffffff; stroke-width: 0.48"/>
    </g>
    <g clip-path="url(#pcbe1e40d2f)">
     <use href="#C0_0_e93a4b9b01" x="292.611269" y="262.025132" style="fill: #5770db; stroke: #ffffff; stroke-width: 0.48"/>
    </g>
    <g clip-path="url(#pcbe1e40d2f)">
     <use href="#C0_0_e93a4b9b01" x="247.315768" y="263.601135" style="fill: #5770db; stroke: #ffffff; stroke-width: 0.48"/>
    </g>
    <g clip-path="url(#pcbe1e40d2f)">
     <use href="#C0_0_e93a4b9b01" x="242.996352" y="271.189299" style="fill: #5770db; stroke: #ffffff; stroke-width: 0.48"/>
    </g>
    <g clip-path="url(#pcbe1e40d2f)">
     <use href="#C0_0_e93a4b9b01" x="253.619781" y="274.224564" style="fill: #5770db; stroke: #ffffff; stroke-width: 0.48"/>
    </g>
    <g clip-path="url(#pcbe1e40d2f)">
     <use href="#C0_0_e93a4b9b01" x="258.28942" y="282.863397" style="fill: #5770db; stroke: #ffffff; stroke-width: 0.48"/>
    </g>
    <g clip-path="url(#pcbe1e40d2f)">
     <use href="#C0_0_e93a4b9b01" x="265.935955" y="281.871099" style="fill: #5770db; stroke: #ffffff; stroke-width: 0.48"/>
    </g>
    <g clip-path="url(#pcbe1e40d2f)">
     <use href="#C0_0_e93a4b9b01" x="264.18484" y="268.095663" style="fill: #5770db; stroke: #ffffff; stroke-width: 0.48"/>
    </g>
    <g clip-path="url(#pcbe1e40d2f)">
     <use href="#C0_0_e93a4b9b01" x="264.18484" y="275.450345" style="fill: #5770db; stroke: #ffffff; stroke-width: 0.48"/>
    </g>
    <g clip-path="url(#pcbe1e40d2f)">
     <use href="#C0_0_e93a4b9b01" x="266.694771" y="261.674909" style="fill: #5770db; stroke: #ffffff; stroke-width: 0.48"/>
    </g>
    <g clip-path="url(#pcbe1e40d2f)">
     <use href="#C0_0_e93a4b9b01" x="269.146332" y="271.539522" style="fill: #5770db; stroke: #ffffff; stroke-width: 0.48"/>
    </g>
    <g clip-path="url(#pcbe1e40d2f)">
     <use href="#C0_0_e93a4b9b01" x="277.084718" y="253.970004" style="fill: #5770db; stroke: #ffffff; stroke-width: 0.48"/>
    </g>
    <g clip-path="url(#pcbe1e40d2f)">
     <use href="#C0_0_e93a4b9b01" x="272.356709" y="257.880827" style="fill: #5770db; stroke: #ffffff; stroke-width: 0.48"/>
    </g>
    <g clip-path="url(#pcbe1e40d2f)">
     <use href="#C0_0_e93a4b9b01" x="278.835833" y="259.690312" style="fill: #5770db; stroke: #ffffff; stroke-width: 0.48"/>
    </g>
    <g clip-path="url(#pcbe1e40d2f)">
     <use href="#C0_0_e93a4b9b01" x="272.940413" y="264.418322" style="fill: #5770db; stroke: #ffffff; stroke-width: 0.48"/>
    </g>
    <g clip-path="url(#pcbe1e40d2f)">
     <use href="#C0_0_e93a4b9b01" x="278.252128" y="268.037292" style="fill: #5770db; stroke: #ffffff; stroke-width: 0.48"/>
    </g>
    <g clip-path="url(#pcbe1e40d2f)">
     <use href="#C0_0_e93a4b9b01" x="285.781921" y="262.258614" style="fill: #5770db; stroke: #ffffff; stroke-width: 0.48"/>
    </g>
    <g clip-path="url(#pcbe1e40d2f)">
     <use href="#C0_0_e93a4b9b01" x="287.708148" y="268.329145" style="fill: #5770db; stroke: #ffffff; stroke-width: 0.48"/>
    </g>
    <g clip-path="url(#pcbe1e40d2f)">
     <use href="#C0_0_e93a4b9b01" x="283.096879" y="274.92501" style="fill: #5770db; stroke: #ffffff; stroke-width: 0.48"/>
    </g>
    <g clip-path="url(#pcbe1e40d2f)">
     <use href="#C0_0_e93a4b9b01" x="288.05837" y="275.800567" style="fill: #5770db; stroke: #ffffff; stroke-width: 0.48"/>
    </g>
    <g clip-path="url(#pcbe1e40d2f)">
     <use href="#C0_0_e93a4b9b01" x="276.384272" y="277.610053" style="fill: #5770db; stroke: #ffffff; stroke-width: 0.48"/>
    </g>
    <g clip-path="url(#pcbe1e40d2f)">
     <use href="#C0_0_e93a4b9b01" x="294.362383" y="257.180381" style="fill: #5770db; stroke: #ffffff; stroke-width: 0.48"/>
    </g>
    <g clip-path="url(#pcbe1e40d2f)">
     <use href="#C0_0_e93a4b9b01" x="295.237941" y="268.620997" style="fill: #5770db; stroke: #ffffff; stroke-width: 0.48"/>
    </g>
    <g clip-path="url(#pcbe1e40d2f)">
     <use href="#C0_0_e93a4b9b01" x="311.873531" y="126.080259" style="fill: #a157db; stroke: #ffffff; stroke-width: 0.48"/>
    </g>
    <g clip-path="url(#pcbe1e40d2f)">
     <use href="#C0_0_e93a4b9b01" x="306.386704" y="148.085934" style="fill: #a157db; stroke: #ffffff; stroke-width: 0.48"/>
    </g>
    <g clip-path="url(#pcbe1e40d2f)">
     <use href="#C0_0_e93a4b9b01" x="359.854074" y="141.490069" style="fill: #a157db; stroke: #ffffff; stroke-width: 0.48"/>
    </g>
    <g clip-path="url(#pcbe1e40d2f)">
     <use href="#C0_0_e93a4b9b01" x="288.933928" y="134.660722" style="fill: #a157db; stroke: #ffffff; stroke-width: 0.48"/>
    </g>
    <g clip-path="url(#pcbe1e40d2f)">
     <use href="#C0_0_e93a4b9b01" x="320.453993" y="136.82043" style="fill: #a157db; stroke: #ffffff; stroke-width: 0.48"/>
    </g>
    <g clip-path="url(#pcbe1e40d2f)">
     <use href="#C0_0_e93a4b9b01" x="308.488042" y="147.210377" style="fill: #a157db; stroke: #ffffff; stroke-width: 0.48"/>
    </g>
    <g clip-path="url(#pcbe1e40d2f)">
     <use href="#C0_0_e93a4b9b01" x="334.40454" y="119.951358" style="fill: #a157db; stroke: #ffffff; stroke-width: 0.48"/>
    </g>
    <g clip-path="url(#pcbe1e40d2f)">
     <use href="#C0_0_e93a4b9b01" x="328.217268" y="122.694771" style="fill: #a157db; stroke: #ffffff; stroke-width: 0.48"/>
    </g>
    <g clip-path="url(#pcbe1e40d2f)">
     <use href="#C0_0_e93a4b9b01" x="331.719497" y="123.74544" style="fill: #a157db; stroke: #ffffff; stroke-width: 0.48"/>
    </g>
    <g clip-path="url(#pcbe1e40d2f)">
     <use href="#C0_0_e93a4b9b01" x="329.267937" y="128.356709" style="fill: #a157db; stroke: #ffffff; stroke-width: 0.48"/>
    </g>
    <g clip-path="url(#pcbe1e40d2f)">
     <use href="#C0_0_e93a4b9b01" x="339.832996" y="130.808269" style="fill: #a157db; stroke: #ffffff; stroke-width: 0.48"/>
    </g>
    <g clip-path="url(#pcbe1e40d2f)">
     <use href="#C0_0_e93a4b9b01" x="334.988245" y="130.808269" style="fill: #a157db; stroke: #ffffff; stroke-width: 0.48"/>
    </g>
    <g clip-path="url(#pcbe1e40d2f)">
     <use href="#C0_0_e93a4b9b01" x="355.943251" y="140.847994" style="fill: #a157db; stroke: #ffffff; stroke-width: 0.48"/>
    </g>
    <g clip-path="url(#pcbe1e40d2f)">
     <use href="#C0_0_e93a4b9b01" x="373.454398" y="128.47345" style="fill: #a157db; stroke: #ffffff; stroke-width: 0.48"/>
    </g>
    <g clip-path="url(#pcbe1e40d2f)">
     <use href="#C0_0_e93a4b9b01" x="381.743008" y="123.161735" style="fill: #a157db; stroke: #ffffff; stroke-width: 0.48"/>
    </g>
    <g clip-path="url(#pcbe1e40d2f)">
     <use href="#C0_0_e93a4b9b01" x="202.37049" y="143.824889" style="fill: #a157db; stroke: #ffffff; stroke-width: 0.48"/>
    </g>
    <g clip-path="url(#pcbe1e40d2f)">
     <use href="#C0_0_e93a4b9b01" x="328.45075" y="107.927037" style="fill: #a157db; stroke: #ffffff; stroke-width: 0.48"/>
    </g>
    <g clip-path="url(#pcbe1e40d2f)">
     <use href="#C0_0_e93a4b9b01" x="334.988245" y="108.510742" style="fill: #a157db; stroke: #ffffff; stroke-width: 0.48"/>
    </g>
    <g clip-path="url(#pcbe1e40d2f)">
     <use href="#C0_0_e93a4b9b01" x="337.556546" y="116.565869" style="fill: #a157db; stroke: #ffffff; stroke-width: 0.48"/>
    </g>
    <g clip-path="url(#pcbe1e40d2f)">
     <use href="#C0_0_e93a4b9b01" x="361.897041" y="112.479935" style="fill: #a157db; stroke: #ffffff; stroke-width: 0.48"/>
    </g>
    <g clip-path="url(#pcbe1e40d2f)">
     <use href="#C0_0_e93a4b9b01" x="291.385488" y="133.901905" style="fill: #a157db; stroke: #ffffff; stroke-width: 0.48"/>
    </g>
    <g clip-path="url(#pcbe1e40d2f)">
     <use href="#C0_0_e93a4b9b01" x="309.713822" y="128.239968" style="fill: #a157db; stroke: #ffffff; stroke-width: 0.48"/>
    </g>
    <g clip-path="url(#pcbe1e40d2f)">
     <use href="#C0_0_e93a4b9b01" x="315.550872" y="123.044994" style="fill: #a157db; stroke: #ffffff; stroke-width: 0.48"/>
    </g>
    <g clip-path="url(#pcbe1e40d2f)">
     <use href="#C0_0_e93a4b9b01" x="322.905553" y="136.178354" style="fill: #a157db; stroke: #ffffff; stroke-width: 0.48"/>
    </g>
    <g clip-path="url(#pcbe1e40d2f)">
     <use href="#C0_0_e93a4b9b01" x="306.970409" y="144.466964" style="fill: #a157db; stroke: #ffffff; stroke-width: 0.48"/>
    </g>
    <g clip-path="url(#pcbe1e40d2f)">
     <use href="#C0_0_e93a4b9b01" x="334.988245" y="126.488853" style="fill: #a157db; stroke: #ffffff; stroke-width: 0.48"/>
    </g>
    <g clip-path="url(#pcbe1e40d2f)">
     <use href="#C0_0_e93a4b9b01" x="336.622619" y="133.843535" style="fill: #a157db; stroke: #ffffff; stroke-width: 0.48"/>
    </g>
    <g clip-path="url(#pcbe1e40d2f)">
     <use href="#C0_0_e93a4b9b01" x="345.319822" y="134.835833" style="fill: #a157db; stroke: #ffffff; stroke-width: 0.48"/>
    </g>
    <g clip-path="url(#pcbe1e40d2f)">
     <use href="#C0_0_e93a4b9b01" x="351.507094" y="125.905148" style="fill: #a157db; stroke: #ffffff; stroke-width: 0.48"/>
    </g>
    <g clip-path="url(#pcbe1e40d2f)">
     <use href="#C0_0_e93a4b9b01" x="354.775841" y="130.516417" style="fill: #a157db; stroke: #ffffff; stroke-width: 0.48"/>
    </g>
    <g clip-path="url(#pcbe1e40d2f)">
     <use href="#C0_0_e93a4b9b01" x="334.171058" y="140.964734" style="fill: #a157db; stroke: #ffffff; stroke-width: 0.48"/>
    </g>
    <g clip-path="url(#pcbe1e40d2f)">
     <use href="#C0_0_e93a4b9b01" x="347.421159" y="143.299554" style="fill: #a157db; stroke: #ffffff; stroke-width: 0.48"/>
    </g>
    <g clip-path="url(#pcbe1e40d2f)">
     <use href="#C0_0_e93a4b9b01" x="352.382651" y="145.692744" style="fill: #a157db; stroke: #ffffff; stroke-width: 0.48"/>
    </g>
    <g clip-path="url(#pcbe1e40d2f)">
     <use href="#C0_0_e93a4b9b01" x="357.752736" y="144.933928" style="fill: #a157db; stroke: #ffffff; stroke-width: 0.48"/>
    </g>
    <g clip-path="url(#pcbe1e40d2f)">
     <use href="#C0_0_e93a4b9b01" x="365.165788" y="133.610053" style="fill: #a157db; stroke: #ffffff; stroke-width: 0.48"/>
    </g>
    <g clip-path="url(#pcbe1e40d2f)">
     <use href="#C0_0_e93a4b9b01" x="378.182408" y="126.722335" style="fill: #a157db; stroke: #ffffff; stroke-width: 0.48"/>
    </g>
    <g clip-path="url(#pcbe1e40d2f)">
     <use href="#C0_0_e93a4b9b01" x="387.638427" y="126.430482" style="fill: #a157db; stroke: #ffffff; stroke-width: 0.48"/>
    </g>
    <g clip-path="url(#pcbe1e40d2f)">
     <use href="#C0_0_e93a4b9b01" x="219.181192" y="142.482367" style="fill: #db57b2; stroke: #ffffff; stroke-width: 0.48"/>
    </g>
    <g clip-path="url(#pcbe1e40d2f)">
     <use href="#C0_0_e93a4b9b01" x="204.530199" y="155.674098" style="fill: #db57b2; stroke: #ffffff; stroke-width: 0.48"/>
    </g>
    <g clip-path="url(#pcbe1e40d2f)">
     <use href="#C0_0_e93a4b9b01" x="211.651398" y="152.113498" style="fill: #db57b2; stroke: #ffffff; stroke-width: 0.48"/>
    </g>
    <g clip-path="url(#pcbe1e40d2f)">
     <use href="#C0_0_e93a4b9b01" x="222.274828" y="152.113498" style="fill: #db57b2; stroke: #ffffff; stroke-width: 0.48"/>
    </g>
    <g clip-path="url(#pcbe1e40d2f)">
     <use href="#C0_0_e93a4b9b01" x="225.485205" y="157.950547" style="fill: #db57b2; stroke: #ffffff; stroke-width: 0.48"/>
    </g>
    <g clip-path="url(#pcbe1e40d2f)">
     <use href="#C0_0_e93a4b9b01" x="211.242805" y="165.3636" style="fill: #db57b2; stroke: #ffffff; stroke-width: 0.48"/>
    </g>
    <g clip-path="url(#pcbe1e40d2f)">
     <use href="#C0_0_e93a4b9b01" x="233.073368" y="141.431698" style="fill: #db57b2; stroke: #ffffff; stroke-width: 0.48"/>
    </g>
    <g clip-path="url(#pcbe1e40d2f)">
     <use href="#C0_0_e93a4b9b01" x="239.669234" y="144.817187" style="fill: #db57b2; stroke: #ffffff; stroke-width: 0.48"/>
    </g>
    <g clip-path="url(#pcbe1e40d2f)">
     <use href="#C0_0_e93a4b9b01" x="231.614106" y="153.57276" style="fill: #db57b2; stroke: #ffffff; stroke-width: 0.48"/>
    </g>
    <g clip-path="url(#pcbe1e40d2f)">
     <use href="#C0_0_e93a4b9b01" x="244.630726" y="155.732469" style="fill: #db57b2; stroke: #ffffff; stroke-width: 0.48"/>
    </g>
    <g clip-path="url(#pcbe1e40d2f)">
     <use href="#C0_0_e93a4b9b01" x="243.813539" y="153.747872" style="fill: #db57b2; stroke: #ffffff; stroke-width: 0.48"/>
    </g>
    <g clip-path="url(#pcbe1e40d2f)">
     <use href="#C0_0_e93a4b9b01" x="206.923389" y="154.389947" style="fill: #db57b2; stroke: #ffffff; stroke-width: 0.48"/>
    </g>
    <g clip-path="url(#pcbe1e40d2f)">
     <use href="#C0_0_e93a4b9b01" x="213.402513" y="147.61897" style="fill: #db57b2; stroke: #ffffff; stroke-width: 0.48"/>
    </g>
    <g clip-path="url(#pcbe1e40d2f)">
     <use href="#C0_0_e93a4b9b01" x="212.410215" y="155.148764" style="fill: #db57b2; stroke: #ffffff; stroke-width: 0.48"/>
    </g>
    <g clip-path="url(#pcbe1e40d2f)">
     <use href="#C0_0_e93a4b9b01" x="220.990677" y="157.366842" style="fill: #db57b2; stroke: #ffffff; stroke-width: 0.48"/>
    </g>
    <g clip-path="url(#pcbe1e40d2f)">
     <use href="#C0_0_e93a4b9b01" x="227.002837" y="150.128901" style="fill: #db57b2; stroke: #ffffff; stroke-width: 0.48"/>
    </g>
    <g clip-path="url(#pcbe1e40d2f)">
     <use href="#C0_0_e93a4b9b01" x="225.835428" y="159.818403" style="fill: #db57b2; stroke: #ffffff; stroke-width: 0.48"/>
    </g>
    <g clip-path="url(#pcbe1e40d2f)">
     <use href="#C0_0_e93a4b9b01" x="215.211998" y="164.19619" style="fill: #db57b2; stroke: #ffffff; stroke-width: 0.48"/>
    </g>
    <g clip-path="url(#pcbe1e40d2f)">
     <use href="#C0_0_e93a4b9b01" x="220.698824" y="165.947304" style="fill: #db57b2; stroke: #ffffff; stroke-width: 0.48"/>
    </g>
    <g clip-path="url(#pcbe1e40d2f)">
     <use href="#C0_0_e93a4b9b01" x="230.446696" y="147.385488" style="fill: #db57b2; stroke: #ffffff; stroke-width: 0.48"/>
    </g>
    <g clip-path="url(#pcbe1e40d2f)">
     <use href="#C0_0_e93a4b9b01" x="236.750709" y="147.385488" style="fill: #db57b2; stroke: #ffffff; stroke-width: 0.48"/>
    </g>
    <g clip-path="url(#pcbe1e40d2f)">
     <use href="#C0_0_e93a4b9b01" x="236.692339" y="154.448318" style="fill: #db57b2; stroke: #ffffff; stroke-width: 0.48"/>
    </g>
    <g clip-path="url(#pcbe1e40d2f)">
     <use href="#C0_0_e93a4b9b01" x="247.432509" y="154.098095" style="fill: #db57b2; stroke: #ffffff; stroke-width: 0.48"/>
    </g>
    <g clip-path="url(#pcbe1e40d2f)">
     <use href="#C0_0_e93a4b9b01" x="258.522902" y="145.809485" style="fill: #db57b2; stroke: #ffffff; stroke-width: 0.48"/>
    </g>
    <g clip-path="url(#pcbe1e40d2f)">
     <use href="#C0_0_e93a4b9b01" x="218.130523" y="143.649777" style="fill: #db57b2; stroke: #ffffff; stroke-width: 0.48"/>
    </g>
    <g clip-path="url(#pcbe1e40d2f)">
     <use href="#C0_0_e93a4b9b01" x="226.419133" y="145.22578" style="fill: #db57b2; stroke: #ffffff; stroke-width: 0.48"/>
    </g>
    <g clip-path="url(#pcbe1e40d2f)">
     <use href="#C0_0_e93a4b9b01" x="207.0985" y="150.946088" style="fill: #db57b2; stroke: #ffffff; stroke-width: 0.48"/>
    </g>
    <g clip-path="url(#pcbe1e40d2f)">
     <use href="#C0_0_e93a4b9b01" x="215.620592" y="150.128901" style="fill: #db57b2; stroke: #ffffff; stroke-width: 0.48"/>
    </g>
    <g clip-path="url(#pcbe1e40d2f)">
     <use href="#C0_0_e93a4b9b01" x="217.546818" y="154.506688" style="fill: #db57b2; stroke: #ffffff; stroke-width: 0.48"/>
    </g>
    <g clip-path="url(#pcbe1e40d2f)">
     <use href="#C0_0_e93a4b9b01" x="213.635995" y="158.767734" style="fill: #db57b2; stroke: #ffffff; stroke-width: 0.48"/>
    </g>
    <g clip-path="url(#pcbe1e40d2f)">
     <use href="#C0_0_e93a4b9b01" x="222.916903" y="149.194974" style="fill: #db57b2; stroke: #ffffff; stroke-width: 0.48"/>
    </g>
    <g clip-path="url(#pcbe1e40d2f)">
     <use href="#C0_0_e93a4b9b01" x="225.777057" y="154.6818" style="fill: #db57b2; stroke: #ffffff; stroke-width: 0.48"/>
    </g>
    <g clip-path="url(#pcbe1e40d2f)">
     <use href="#C0_0_e93a4b9b01" x="218.130523" y="162.970409" style="fill: #db57b2; stroke: #ffffff; stroke-width: 0.48"/>
    </g>
    <g clip-path="url(#pcbe1e40d2f)">
     <use href="#C0_0_e93a4b9b01" x="208.674503" y="165.538711" style="fill: #db57b2; stroke: #ffffff; stroke-width: 0.48"/>
    </g>
    <g clip-path="url(#pcbe1e40d2f)">
     <use href="#C0_0_e93a4b9b01" x="233.190109" y="142.657479" style="fill: #db57b2; stroke: #ffffff; stroke-width: 0.48"/>
    </g>
    <g clip-path="url(#pcbe1e40d2f)">
     <use href="#C0_0_e93a4b9b01" x="229.045805" y="150.362383" style="fill: #db57b2; stroke: #ffffff; stroke-width: 0.48"/>
    </g>
    <g clip-path="url(#pcbe1e40d2f)">
     <use href="#C0_0_e93a4b9b01" x="235.233077" y="150.946088" style="fill: #db57b2; stroke: #ffffff; stroke-width: 0.48"/>
    </g>
    <g clip-path="url(#pcbe1e40d2f)">
     <use href="#C0_0_e93a4b9b01" x="241.945683" y="150.187272" style="fill: #db57b2; stroke: #ffffff; stroke-width: 0.48"/>
    </g>
    <g clip-path="url(#pcbe1e40d2f)">
     <use href="#C0_0_e93a4b9b01" x="247.315768" y="148.611269" style="fill: #db57b2; stroke: #ffffff; stroke-width: 0.48"/>
    </g>
    <g clip-path="url(#pcbe1e40d2f)">
     <use href="#C0_0_e93a4b9b01" x="233.715444" y="157.717065" style="fill: #db57b2; stroke: #ffffff; stroke-width: 0.48"/>
    </g>
    <g clip-path="url(#pcbe1e40d2f)">
     <use href="#C0_0_e93a4b9b01" x="250.117552" y="155.790839" style="fill: #db57b2; stroke: #ffffff; stroke-width: 0.48"/>
    </g>
    <g clip-path="url(#pcbe1e40d2f)">
     <use href="#C0_0_e93a4b9b01" x="238.910418" y="160.810701" style="fill: #db57b2; stroke: #ffffff; stroke-width: 0.48"/>
    </g>
    <g clip-path="url(#pcbe1e40d2f)">
     <use href="#C0_0_e93a4b9b01" x="256.246453" y="158.475882" style="fill: #db57b2; stroke: #ffffff; stroke-width: 0.48"/>
    </g>
    <g clip-path="url(#pcbe1e40d2f)">
     <use href="#C0_0_e93a4b9b01" x="241.770572" y="165.3636" style="fill: #db57b2; stroke: #ffffff; stroke-width: 0.48"/>
    </g>
    <g clip-path="url(#pcbe1e40d2f)">
     <use href="#C0_0_e93a4b9b01" x="261.149574" y="145.517633" style="fill: #db57b2; stroke: #ffffff; stroke-width: 0.48"/>
    </g>
   </g>
   <g id="PathCollection_2"/>
   <g id="PathCollection_3"/>
   <g id="PathCollection_4"/>
   <g id="PathCollection_5"/>
   <g id="PathCollection_6"/>
   <g id="PathCollection_7"/>
   <g id="PathCollection_8"/>
   <g id="PathCollection_9"/>
   <g id="frame" transform="scale(0.584030 0.583784)"><path d="M98.5 70.3V527.9M710.0 70.3V527.9M97.6 71.2H710.9M97.6 527.0H710.9" stroke="#000" stroke-width="1.8" fill="none"/><path d="M142.66 527.0v6.0M257.09 527.0v6.0M371.51 527.0v6.0M485.93 527.0v6.0M600.35 527.0v6.0M98.5 484.57h-6.0M98.5 427.47h-6.0M98.5 370.37h-6.0M98.5 313.26h-6.0M98.5 256.16h-6.0M98.5 199.06h-6.0M98.5 141.96h-6.0M98.5 84.86h-6.0" stroke="#000" stroke-width="1.5" fill="none"/></g>
   <g id="matplotlib.axis_1" transform="translate(0 0.2919)">
    <g id="xtick_1">
     
     <g id="text_1">
      <text style="font-size: 10px; font-family: 'DejaVu Sans', sans-serif; text-anchor: middle" x="83.261317" y="322.182437" transform="rotate(-0 83.261317 322.182437)">−20</text>
     </g>
    </g>
    <g id="xtick_2">
     
     <g id="text_2">
      <text style="font-size: 10px; font-family: 'DejaVu Sans', sans-serif; text-anchor: middle" x="150.087665" y="322.182437" transform="rotate(-0 150.087665 322.182437)">−10</text>
     </g>
    </g>
    <g id="xtick_3">
     
     <g id="text_3">
      <text style="font-size: 10px; font-family: 'DejaVu Sans', sans-serif; text-anchor: middle" x="216.914012" y="322.182437" transform="rotate(-0 216.914012 322.182437)">0</text>
     </g>
    </g>
    <g id="xtick_4">
     
     <g id="text_4">
      <text style="font-size: 10px; font-family: 'DejaVu Sans', sans-serif; text-anchor: middle" x="283.740359" y="322.182437" transform="rotate(-0 283.740359 322.182437)">10</text>
     </g>
    </g>
    <g id="xtick_5">
     
     <g id="text_5">
      <text style="font-size: 10px; font-family: 'DejaVu Sans', sans-serif; text-anchor: middle" x="350.566707" y="322.182437" transform="rotate(-0 350.566707 322.182437)">20</text>
     </g>
    </g>
    <g id="text_6">
     <text style="font-size: 10px; font-family: 'DejaVu Sans', sans-serif; text-anchor: middle" x="236.16" y="335.860562" transform="rotate(-0 236.16 335.860562)">x</text>
    </g>
   </g>
   <g id="matplotlib.axis_2" transform="translate(0 0.2335)">
    <g id="ytick_1">
     
     <g id="text_7">
      <text style="font-size: 10px; font-family: 'DejaVu Sans', sans-serif; text-anchor: end" x="50.6" y="286.448761" transform="rotate(-0 50.6 286.448761)">−30</text>
     </g>
    </g>
    <g id="ytick_2">
     
     <g id="text_8">
      <text style="font-size: 10px; font-family: 'DejaVu Sans', sans-serif; text-anchor: end" x="50.6" y="253.113924" transform="rotate(-0 50.6 253.113924)">−20</text>
     </g>
    </g>
    <g id="ytick_3">
     
     <g id="text_9">
      <text style="font-size: 10px; font-family: 'DejaVu Sans', sans-serif; text-anchor: end" x="50.6" y="219.779088" transform="rotate(-0 50.6 219.779088)">−10</text>
     </g>
    </g>
    <g id="ytick_4">
     
     <g id="text_10">
      <text style="font-size: 10px; font-family: 'DejaVu Sans', sans-serif; text-anchor: end" x="50.6" y="186.444251" transform="rotate(-0 50.6 186.444251)">0</text>
     </g>
    </g>
    <g id="ytick_5">
     
     <g id="text_11">
      <text style="font-size: 10px; font-family: 'DejaVu Sans', sans-serif; text-anchor: end" x="50.6" y="153.109415" transform="rotate(-0 50.6 153.109415)">10</text>
     </g>
    </g>
    <g id="ytick_6">
     
     <g id="text_12">
      <text style="font-size: 10px; font-family: 'DejaVu Sans', sans-serif; text-anchor: end" x="50.6" y="119.774578" transform="rotate(-0 50.6 119.774578)">20</text>
     </g>
    </g>
    <g id="ytick_7">
     
     <g id="text_13">
      <text style="font-size: 10px; font-family: 'DejaVu Sans', sans-serif; text-anchor: end" x="50.6" y="86.439742" transform="rotate(-0 50.6 86.439742)">30</text>
     </g>
    </g>
    <g id="ytick_8">
     
     <g id="text_14">
      <text style="font-size: 10px; font-family: 'DejaVu Sans', sans-serif; text-anchor: end" x="50.6" y="53.104905" transform="rotate(-0 50.6 53.104905)">40</text>
     </g>
    </g>
    <g id="text_15">
     <text style="font-size: 10px; font-family: 'DejaVu Sans', sans-serif; text-anchor: middle" x="23.415625" y="174.528" transform="rotate(-90 23.415625 174.528)">y</text>
    </g>
   </g>
   <g id="text_16">
    <text style="font-size: 12px; font-family: 'DejaVu Sans', sans-serif; text-anchor: middle" x="236.16" y="35.472" transform="rotate(-0 236.16 35.472)">Entity embedding visualization</text>
   </g>
   <g id="legend_1">
    <g id="patch_3">
     <path d="M 317.845 302.584 
L 407.72 302.584 
Q 409.72 302.584 409.72 300.584 
L 409.72 169.480875 
Q 409.72 167.480875 407.72 167.480875 
L 317.845 167.480875 
Q 315.845 167.480875 315.845 169.480875 
L 315.845 300.584 
Q 315.845 302.584 317.845 302.584 
z
" style="fill: #ffffff; opacity: 0.8; stroke: #cccccc; stroke-linejoin: miter"/>
    </g>
    <g id="text_17">
     <text style="font-size: 10px; font-family: 'DejaVu Sans', sans-serif; text-anchor: start" x="335.509063" y="179.079313" transform="rotate(-0 335.509063 179.079313)">entity type</text>
    </g>
    <g id="PathCollection_10">
     <defs>
      <path id="m0a594d216b" d="M 0 3 
C 0.795609 3 1.55874 2.683901 2.12132 2.12132 
C 2.683901 1.55874 3 0.795609 3 0 
C 3 -0.795609 2.683901 -1.55874 2.12132 -2.12132 
C 1.55874 -2.683901 0.795609 -3 0 -3 
C -0.795609 -3 -1.55874 -2.683901 -2.12132 -2.12132 
C -2.683901 -1.55874 -3 -0.795609 -3 0 
C -3 0.795609 -2.683901 1.55874 -2.12132 2.12132 
C -1.55874 2.683901 -0.795609 3 0 3 
z
" style="stroke: #db5f57"/>
     </defs>
     <g>
      <use href="#m0a594d216b" x="329.845" y="191.132438" style="fill: #db5f57; stroke: #db5f57"/>
     </g>
    </g>
    <g id="text_18">
     <text style="font-size: 10px; font-family: 'DejaVu Sans', sans-serif; text-anchor: start" x="347.845" y="193.757438" transform="rotate(-0 347.845 193.757438)">Human</text>
    </g>
    <g id="PathCollection_11">
     <defs>
      <path id="m7566f91022" d="M 0 3 
C 0.795609 3 1.55874 2.683901 2.12132 2.12132 
C 2.683901 1.55874 3 0.795609 3 0 
C 3 -0.795609 2.683901 -1.55874 2.12132 -2.12132 
C 1.55874 -2.683901 0.795609 -3 0 -3 
C -0.795609 -3 -1.55874 -2.683901 -2.12132 -2.12132 
C -2.683901 -1.55874 -3 -0.795609 -3 0 
C -3 0.795609 -2.683901 1.55874 -2.12132 2.12132 
C -1.55874 2.683901 -0.795609 3 0 3 
z
" style="stroke: #dbc257"/>
     </defs>
     <g>
      <use href="#m7566f91022" x="329.845" y="205.810563" style="fill: #dbc257; stroke: #dbc257"/>
     </g>
    </g>
    <g id="text_19">
     <text style="font-size: 10px; font-family: 'DejaVu Sans', sans-serif; text-anchor: start" x="347.845" y="208.435563" transform="rotate(-0 347.845 208.435563)">Book</text>
    </g>
    <g id="PathCollection_12">
     <defs>
      <path id="mfb350259ca" d="M 0 3 
C 0.795609 3 1.55874 2.683901 2.12132 2.12132 
C 2.683901 1.55874 3 0.795609 3 0 
C 3 -0.795609 2.683901 -1.55874 2.12132 -2.12132 
C 1.55874 -2.683901 0.795609 -3 0 -3 
C -0.795609 -3 -1.55874 -2.683901 -2.12132 -2.12132 
C -2.683901 -1.55874 -3 -0.795609 -3 0 
C -3 0.795609 -2.683901 1.55874 -2.12132 2.12132 
C -1.55874 2.683901 -0.795609 3 0 3 
z
" style="stroke: #91db57"/>
     </defs>
     <g>
      <use href="#mfb350259ca" x="329.845" y="220.488688" style="fill: #91db57; stroke: #91db57"/>
     </g>
    </g>
    <g id="text_20">
     <text style="font-size: 10px; font-family: 'DejaVu Sans', sans-serif; text-anchor: start" x="347.845" y="223.113688" transform="rotate(-0 347.845 223.113688)">Village</text>
    </g>
    <g id="PathCollection_13">
     <defs>
      <path id="m4c948cb445" d="M 0 3 
C 0.795609 3 1.55874 2.683901 2.12132 2.12132 
C 2.683901 1.55874 3 0.795609 3 0 
C 3 -0.795609 2.683901 -1.55874 2.12132 -2.12132 
C 1.55874 -2.683901 0.795609 -3 0 -3 
C -0.795609 -3 -1.55874 -2.683901 -2.12132 -2.12132 
C -2.683901 -1.55874 -3 -0.795609 -3 0 
C -3 0.795609 -2.683901 1.55874 -2.12132 2.12132 
C -1.55874 2.683901 -0.795609 3 0 3 
z
" style="stroke: #57db80"/>
     </defs>
     <g>
      <use href="#m4c948cb445" x="329.845" y="235.166813" style="fill: #57db80; stroke: #57db80"/>
     </g>
    </g>
    <g id="text_21">
     <text style="font-size: 10px; font-family: 'DejaVu Sans', sans-serif; text-anchor: start" x="347.845" y="237.791813" transform="rotate(-0 347.845 237.791813)">Taxon</text>
    </g>
    <g id="PathCollection_14">
     <defs>
      <path id="m566663c5d4" d="M 0 3 
C 0.795609 3 1.55874 2.683901 2.12132 2.12132 
C 2.683901 1.55874 3 0.795609 3 0 
C 3 -0.795609 2.683901 -1.55874 2.12132 -2.12132 
C 1.55874 -2.683901 0.795609 -3 0 -3 
C -0.795609 -3 -1.55874 -2.683901 -2.12132 -2.12132 
C -2.683901 -1.55874 -3 -0.795609 -3 0 
C -3 0.795609 -2.683901 1.55874 -2.12132 2.12132 
C -1.55874 2.683901 -0.795609 3 0 3 
z
" style="stroke: #57d3db"/>
     </defs>
     <g>
      <use href="#m566663c5d4" x="329.845" y="249.844938" style="fill: #57d3db; stroke: #57d3db"/>
     </g>
    </g>
    <g id="text_22">
     <text style="font-size: 10px; font-family: 'DejaVu Sans', sans-serif; text-anchor: start" x="347.845" y="252.469938" transform="rotate(-0 347.845 252.469938)">Album</text>
    </g>
    <g id="PathCollection_15">
     <defs>
      <path id="m0ca1adf3d0" d="M 0 3 
C 0.795609 3 1.55874 2.683901 2.12132 2.12132 
C 2.683901 1.55874 3 0.795609 3 0 
C 3 -0.795609 2.683901 -1.55874 2.12132 -2.12132 
C 1.55874 -2.683901 0.795609 -3 0 -3 
C -0.795609 -3 -1.55874 -2.683901 -2.12132 -2.12132 
C -2.683901 -1.55874 -3 -0.795609 -3 0 
C -3 0.795609 -2.683901 1.55874 -2.12132 2.12132 
C -1.55874 2.683901 -0.795609 3 0 3 
z
" style="stroke: #5770db"/>
     </defs>
     <g>
      <use href="#m0ca1adf3d0" x="329.845" y="264.523063" style="fill: #5770db; stroke: #5770db"/>
     </g>
    </g>
    <g id="text_23">
     <text style="font-size: 10px; font-family: 'DejaVu Sans', sans-serif; text-anchor: start" x="347.845" y="267.148063" transform="rotate(-0 347.845 267.148063)">Movie</text>
    </g>
    <g id="PathCollection_16">
     <defs>
      <path id="mfd84541aca" d="M 0 3 
C 0.795609 3 1.55874 2.683901 2.12132 2.12132 
C 2.683901 1.55874 3 0.795609 3 0 
C 3 -0.795609 2.683901 -1.55874 2.12132 -2.12132 
C 1.55874 -2.683901 0.795609 -3 0 -3 
C -0.795609 -3 -1.55874 -2.683901 -2.12132 -2.12132 
C -2.683901 -1.55874 -3 -0.795609 -3 0 
C -3 0.795609 -2.683901 1.55874 -2.12132 2.12132 
C -1.55874 2.683901 -0.795609 3 0 3 
z
" style="stroke: #a157db"/>
     </defs>
     <g>
      <use href="#mfd84541aca" x="329.845" y="279.201188" style="fill: #a157db; stroke: #a157db"/>
     </g>
    </g>
    <g id="text_24">
     <text style="font-size: 10px; font-family: 'DejaVu Sans', sans-serif; text-anchor: start" x="347.845" y="281.826188" transform="rotate(-0 347.845 281.826188)">Community</text>
    </g>
    <g id="PathCollection_17">
     <defs>
      <path id="mc890123f5a" d="M 0 3 
C 0.795609 3 1.55874 2.683901 2.12132 2.12132 
C 2.683901 1.55874 3 0.795609 3 0 
C 3 -0.795609 2.683901 -1.55874 2.12132 -2.12132 
C 1.55874 -2.683901 0.795609 -3 0 -3 
C -0.795609 -3 -1.55874 -2.683901 -2.12132 -2.12132 
C -2.683901 -1.55874 -3 -0.795609 -3 0 
C -3 0.795609 -2.683901 1.55874 -2.12132 2.12132 
C -1.55874 2.683901 -0.795609 3 0 3 
z
" style="stroke: #db57b2"/>
     </defs>
     <g>
      <use href="#mc890123f5a" x="329.845" y="293.879313" style="fill: #db57b2; stroke: #db57b2"/>
     </g>
    </g>
    <g id="text_25">
     <text style="font-size: 10px; font-family: 'DejaVu Sans', sans-serif; text-anchor: start" x="347.845" y="296.504313" transform="rotate(-0 347.845 296.504313)">Company</text>
    </g>
   </g>
  </g>
 </g>
 <defs>
  <clipPath id="pcbe1e40d2f">
   <rect x="57.6" y="41.472" width="357.12" height="266.112"/>
  </clipPath>
 </defs>
</svg>

</body></html>
